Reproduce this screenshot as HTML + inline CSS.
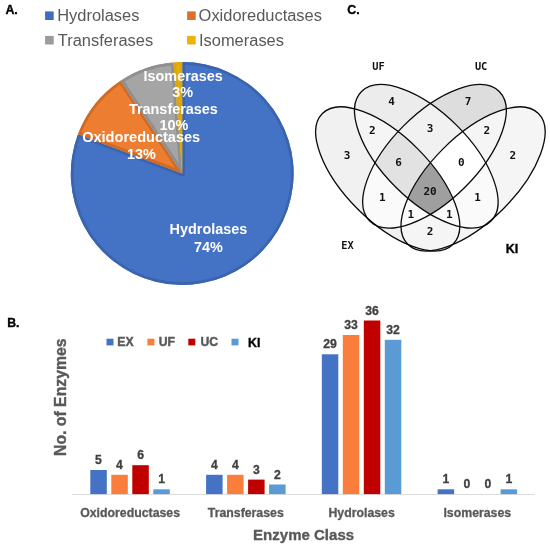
<!DOCTYPE html>
<html><head><meta charset="utf-8"><title>Enzyme classes</title>
<style>
html,body{margin:0;padding:0;background:#fff}
svg{display:block}
text{font-family:"Liberation Sans",sans-serif}
.mono{font-family:"DejaVu Sans Mono","Liberation Mono",monospace}
</style></head><body>
<svg width="550" height="550" viewBox="0 0 550 550">
<rect width="550" height="550" fill="#fff"/>
<g id="pie">
<defs><clipPath id="w0"><path d="M182.2,173.5 L182.20,62.10 A111.4,111.4 0 1 1 77.98,134.15 Z"/></clipPath><clipPath id="w1"><path d="M182.2,173.5 L77.98,134.15 A111.4,111.4 0 0 1 120.65,80.65 Z"/></clipPath><clipPath id="w2"><path d="M182.2,173.5 L120.65,80.65 A111.4,111.4 0 0 1 173.51,62.44 Z"/></clipPath><clipPath id="w3"><path d="M182.2,173.5 L173.51,62.44 A111.4,111.4 0 0 1 182.20,62.10 Z"/></clipPath></defs>
<path d="M182.2,173.5 L182.20,62.10 A111.4,111.4 0 1 1 77.98,134.15 Z" fill="#4472C4"/>
<path d="M182.2,173.5 L182.20,62.10 A111.4,111.4 0 1 1 77.98,134.15 Z" fill="none" stroke="#3B64AF" stroke-width="5.4" stroke-linejoin="round" clip-path="url(#w0)"/>
<path d="M182.2,173.5 L77.98,134.15 A111.4,111.4 0 0 1 120.65,80.65 Z" fill="#ED7D31"/>
<path d="M182.2,173.5 L77.98,134.15 A111.4,111.4 0 0 1 120.65,80.65 Z" fill="none" stroke="#CF6B26" stroke-width="5.4" stroke-linejoin="round" clip-path="url(#w1)"/>
<path d="M182.2,173.5 L120.65,80.65 A111.4,111.4 0 0 1 173.51,62.44 Z" fill="#A5A5A5"/>
<path d="M182.2,173.5 L120.65,80.65 A111.4,111.4 0 0 1 173.51,62.44 Z" fill="none" stroke="#8F8F8F" stroke-width="5.4" stroke-linejoin="round" clip-path="url(#w2)"/>
<path d="M182.2,173.5 L173.51,62.44 A111.4,111.4 0 0 1 182.20,62.10 Z" fill="#E8B00F"/>
<path d="M182.2,173.5 L173.51,62.44 A111.4,111.4 0 0 1 182.20,62.10 Z" fill="none" stroke="#DCA60D" stroke-width="5.4" stroke-linejoin="round" clip-path="url(#w3)"/>
</g>
<text x="183.2" y="80.9" font-size="14.4" font-weight="bold" fill="#fff" text-anchor="middle">Isomerases</text>
<text x="182.7" y="97.4" font-size="14.4" font-weight="bold" fill="#fff" text-anchor="middle">3%</text>
<text x="173.4" y="113.6" font-size="14.4" font-weight="bold" fill="#fff" text-anchor="middle">Transferases</text>
<text x="174.0" y="130.3" font-size="14.4" font-weight="bold" fill="#fff" text-anchor="middle">10%</text>
<text x="141.2" y="142.4" font-size="14.55" font-weight="bold" fill="#fff" text-anchor="middle">Oxidoreductases</text>
<text x="141.4" y="158.8" font-size="14.4" font-weight="bold" fill="#fff" text-anchor="middle">13%</text>
<text x="208.4" y="234.0" font-size="14.4" font-weight="bold" fill="#fff" text-anchor="middle">Hydrolases</text>
<text x="208.3" y="251.9" font-size="14.4" font-weight="bold" fill="#fff" text-anchor="middle">74%</text>
<rect x="45.1" y="11.4" width="8.6" height="8.6" fill="#406CBD"/>
<text x="57.2" y="20.9" font-size="16.45" font-weight="normal" fill="#595959" text-anchor="start">Hydrolases</text>
<rect x="187.1" y="11.4" width="8.6" height="8.6" fill="#DD6E2B"/>
<text x="198.6" y="20.9" font-size="16.45" font-weight="normal" fill="#595959" text-anchor="start">Oxidoreductases</text>
<rect x="45.1" y="35.9" width="8.6" height="8.6" fill="#9B9B9B"/>
<text x="57.8" y="45.8" font-size="16.45" font-weight="normal" fill="#595959" text-anchor="start">Transferases</text>
<rect x="187.1" y="35.9" width="8.6" height="8.6" fill="#EDB20C"/>
<text x="199.0" y="45.8" font-size="16.45" font-weight="normal" fill="#595959" text-anchor="start">Isomerases</text>
<text x="5.4" y="14" font-size="12.4" font-weight="bold" fill="#000" text-anchor="start" stroke="#000" stroke-width="0.35">A.</text>
<text x="7.2" y="327.3" font-size="12.3" font-weight="bold" fill="#000" text-anchor="start" stroke="#000" stroke-width="0.35">B.</text>
<text x="347.3" y="14" font-size="12.4" font-weight="bold" fill="#000" text-anchor="start" stroke="#000" stroke-width="0.35">C.</text>
<defs>
<clipPath id="cEX"><ellipse cx="387.7" cy="178.9" rx="92.4" ry="42.5" transform="rotate(45 387.7 178.9)"/></clipPath>
<clipPath id="cUF"><ellipse cx="426.3" cy="156.3" rx="91.6" ry="43.4" transform="rotate(45 426.3 156.3)"/></clipPath>
<clipPath id="cUC"><ellipse cx="434.5" cy="156.3" rx="91.6" ry="43.4" transform="rotate(-45 434.5 156.3)"/></clipPath>
<clipPath id="cKI"><ellipse cx="473.1" cy="178.9" rx="92.4" ry="42.5" transform="rotate(-45 473.1 178.9)"/></clipPath>
</defs>
<g id="venn">
<g clip-path="url(#cEX)"><rect x="300" y="60" width="250" height="210" fill="#F1F1F1"/></g>
<g clip-path="url(#cUF)"><rect x="300" y="60" width="250" height="210" fill="#ECECEC"/></g>
<g clip-path="url(#cUC)"><rect x="300" y="60" width="250" height="210" fill="#DDDDDD"/></g>
<g clip-path="url(#cKI)"><rect x="300" y="60" width="250" height="210" fill="#F5F5F5"/></g>
<g clip-path="url(#cEX)"><g clip-path="url(#cUF)"><rect x="300" y="60" width="250" height="210" fill="#F5F5F5"/></g></g>
<g clip-path="url(#cEX)"><g clip-path="url(#cUC)"><rect x="300" y="60" width="250" height="210" fill="#FAFAFA"/></g></g>
<g clip-path="url(#cEX)"><g clip-path="url(#cKI)"><rect x="300" y="60" width="250" height="210" fill="#F5F5F5"/></g></g>
<g clip-path="url(#cUF)"><g clip-path="url(#cUC)"><rect x="300" y="60" width="250" height="210" fill="#F1F1F1"/></g></g>
<g clip-path="url(#cUF)"><g clip-path="url(#cKI)"><rect x="300" y="60" width="250" height="210" fill="#FAFAFA"/></g></g>
<g clip-path="url(#cUC)"><g clip-path="url(#cKI)"><rect x="300" y="60" width="250" height="210" fill="#F5F5F5"/></g></g>
<g clip-path="url(#cEX)"><g clip-path="url(#cUF)"><g clip-path="url(#cUC)"><rect x="300" y="60" width="250" height="210" fill="#E2E2E2"/></g></g></g>
<g clip-path="url(#cEX)"><g clip-path="url(#cUF)"><g clip-path="url(#cKI)"><rect x="300" y="60" width="250" height="210" fill="#FAFAFA"/></g></g></g>
<g clip-path="url(#cEX)"><g clip-path="url(#cUC)"><g clip-path="url(#cKI)"><rect x="300" y="60" width="250" height="210" fill="#FAFAFA"/></g></g></g>
<g clip-path="url(#cUF)"><g clip-path="url(#cUC)"><g clip-path="url(#cKI)"><rect x="300" y="60" width="250" height="210" fill="#FFFFFF"/></g></g></g>
<g clip-path="url(#cEX)"><g clip-path="url(#cUF)"><g clip-path="url(#cUC)"><g clip-path="url(#cKI)"><rect x="300" y="60" width="250" height="210" fill="#9F9F9F"/></g></g></g></g>
<ellipse cx="387.7" cy="178.9" rx="92.4" ry="42.5" transform="rotate(45 387.7 178.9)" fill="none" stroke="#0a0a0a" stroke-width="1.3"/>
<ellipse cx="426.3" cy="156.3" rx="91.6" ry="43.4" transform="rotate(45 426.3 156.3)" fill="none" stroke="#0a0a0a" stroke-width="1.3"/>
<ellipse cx="434.5" cy="156.3" rx="91.6" ry="43.4" transform="rotate(-45 434.5 156.3)" fill="none" stroke="#0a0a0a" stroke-width="1.3"/>
<ellipse cx="473.1" cy="178.9" rx="92.4" ry="42.5" transform="rotate(-45 473.1 178.9)" fill="none" stroke="#0a0a0a" stroke-width="1.3"/>
<text class="mono" x="347.1" y="158.7" font-size="11" font-weight="bold" fill="#111" text-anchor="middle">3</text>
<text class="mono" x="391.6" y="105.1" font-size="11" font-weight="bold" fill="#111" text-anchor="middle">4</text>
<text class="mono" x="468.0" y="105.1" font-size="11" font-weight="bold" fill="#111" text-anchor="middle">7</text>
<text class="mono" x="512.9" y="158.7" font-size="11" font-weight="bold" fill="#111" text-anchor="middle">2</text>
<text class="mono" x="372.4" y="134.3" font-size="11" font-weight="bold" fill="#111" text-anchor="middle">2</text>
<text class="mono" x="430.0" y="131.7" font-size="11" font-weight="bold" fill="#111" text-anchor="middle">3</text>
<text class="mono" x="486.7" y="134.3" font-size="11" font-weight="bold" fill="#111" text-anchor="middle">2</text>
<text class="mono" x="398.6" y="166.1" font-size="11" font-weight="bold" fill="#111" text-anchor="middle">6</text>
<text class="mono" x="461.4" y="166.1" font-size="11" font-weight="bold" fill="#111" text-anchor="middle">0</text>
<text class="mono" x="430.0" y="194.5" font-size="11" font-weight="bold" fill="#111" text-anchor="middle">20</text>
<text class="mono" x="382.4" y="201.1" font-size="11" font-weight="bold" fill="#111" text-anchor="middle">1</text>
<text class="mono" x="477.6" y="201.1" font-size="11" font-weight="bold" fill="#111" text-anchor="middle">1</text>
<text class="mono" x="410.8" y="218.1" font-size="11" font-weight="bold" fill="#111" text-anchor="middle">1</text>
<text class="mono" x="449.2" y="218.1" font-size="11" font-weight="bold" fill="#111" text-anchor="middle">1</text>
<text class="mono" x="430.0" y="235.1" font-size="11" font-weight="bold" fill="#111" text-anchor="middle">2</text>
<text class="mono" x="378.5" y="70.4" font-size="10.3" font-weight="bold" fill="#111" text-anchor="middle">UF</text>
<text class="mono" x="481.1" y="70.4" font-size="10.3" font-weight="bold" fill="#111" text-anchor="middle">UC</text>
<text class="mono" x="347.5" y="248.9" font-size="10.3" font-weight="bold" fill="#111" text-anchor="middle">EX</text>
<text x="512.0" y="252.8" font-size="12.6" font-weight="bold" fill="#000" text-anchor="middle" stroke="#000" stroke-width="0.35">KI</text>
</g>
<g id="bars">
<rect x="72.3" y="494.1" width="462.4" height="0.9" fill="#D9D9D9"/>
<rect x="90.3" y="470.0" width="16.5" height="24.1" fill="#4472C4"/>
<text x="98.5" y="464.0" font-size="12.2" font-weight="bold" fill="#404040" text-anchor="middle" stroke="#404040" stroke-width="0.3">5</text>
<rect x="111.3" y="474.8" width="16.5" height="19.3" fill="#F97D3B"/>
<text x="119.5" y="468.8" font-size="12.2" font-weight="bold" fill="#404040" text-anchor="middle" stroke="#404040" stroke-width="0.3">4</text>
<rect x="132.3" y="465.2" width="16.5" height="28.9" fill="#C00000"/>
<text x="140.6" y="459.2" font-size="12.2" font-weight="bold" fill="#404040" text-anchor="middle" stroke="#404040" stroke-width="0.3">6</text>
<rect x="153.3" y="489.3" width="16.5" height="4.8" fill="#5B9BD5"/>
<text x="161.6" y="483.3" font-size="12.2" font-weight="bold" fill="#404040" text-anchor="middle" stroke="#404040" stroke-width="0.3">1</text>
<text x="130.1" y="517.4" font-size="12.3" font-weight="bold" fill="#595959" text-anchor="middle" stroke="#595959" stroke-width="0.3">Oxidoreductases</text>
<rect x="206.1" y="474.8" width="16.5" height="19.3" fill="#4472C4"/>
<text x="214.3" y="468.8" font-size="12.2" font-weight="bold" fill="#404040" text-anchor="middle" stroke="#404040" stroke-width="0.3">4</text>
<rect x="227.1" y="474.8" width="16.5" height="19.3" fill="#F97D3B"/>
<text x="235.3" y="468.8" font-size="12.2" font-weight="bold" fill="#404040" text-anchor="middle" stroke="#404040" stroke-width="0.3">4</text>
<rect x="248.1" y="479.6" width="16.5" height="14.5" fill="#C00000"/>
<text x="256.3" y="473.6" font-size="12.2" font-weight="bold" fill="#404040" text-anchor="middle" stroke="#404040" stroke-width="0.3">3</text>
<rect x="269.1" y="484.5" width="16.5" height="9.6" fill="#5B9BD5"/>
<text x="277.3" y="478.5" font-size="12.2" font-weight="bold" fill="#404040" text-anchor="middle" stroke="#404040" stroke-width="0.3">2</text>
<text x="245.8" y="517.4" font-size="12.3" font-weight="bold" fill="#595959" text-anchor="middle" stroke="#595959" stroke-width="0.3">Transferases</text>
<rect x="321.8" y="354.3" width="16.5" height="139.8" fill="#4472C4"/>
<text x="330.1" y="348.3" font-size="12.2" font-weight="bold" fill="#404040" text-anchor="middle" stroke="#404040" stroke-width="0.3">29</text>
<rect x="342.8" y="335.0" width="16.5" height="159.1" fill="#F97D3B"/>
<text x="351.1" y="329.0" font-size="12.2" font-weight="bold" fill="#404040" text-anchor="middle" stroke="#404040" stroke-width="0.3">33</text>
<rect x="363.8" y="320.5" width="16.5" height="173.6" fill="#C00000"/>
<text x="372.1" y="314.5" font-size="12.2" font-weight="bold" fill="#404040" text-anchor="middle" stroke="#404040" stroke-width="0.3">36</text>
<rect x="384.8" y="339.8" width="16.5" height="154.3" fill="#5B9BD5"/>
<text x="393.1" y="333.8" font-size="12.2" font-weight="bold" fill="#404040" text-anchor="middle" stroke="#404040" stroke-width="0.3">32</text>
<text x="361.6" y="517.4" font-size="12.3" font-weight="bold" fill="#595959" text-anchor="middle" stroke="#595959" stroke-width="0.3">Hydrolases</text>
<rect x="437.6" y="489.3" width="16.5" height="4.8" fill="#4472C4"/>
<text x="445.8" y="483.3" font-size="12.2" font-weight="bold" fill="#404040" text-anchor="middle" stroke="#404040" stroke-width="0.3">1</text>
<text x="466.8" y="488.1" font-size="12.2" font-weight="bold" fill="#404040" text-anchor="middle" stroke="#404040" stroke-width="0.3">0</text>
<text x="487.8" y="488.1" font-size="12.2" font-weight="bold" fill="#404040" text-anchor="middle" stroke="#404040" stroke-width="0.3">0</text>
<rect x="500.6" y="489.3" width="16.5" height="4.8" fill="#5B9BD5"/>
<text x="508.8" y="483.3" font-size="12.2" font-weight="bold" fill="#404040" text-anchor="middle" stroke="#404040" stroke-width="0.3">1</text>
<text x="477.3" y="517.4" font-size="12.3" font-weight="bold" fill="#595959" text-anchor="middle" stroke="#595959" stroke-width="0.3">Isomerases</text>
<text x="303.6" y="540.4" font-size="15.2" font-weight="bold" fill="#595959" text-anchor="middle" stroke="#595959" stroke-width="0.35" textLength="101" lengthAdjust="spacingAndGlyphs">Enzyme Class</text>
<text transform="translate(66 456) rotate(-90)" font-size="15.8" font-weight="bold" fill="#595959" stroke="#595959" stroke-width="0.4" textLength="117.6" lengthAdjust="spacingAndGlyphs">No. of Enzymes</text>
<rect x="106.5" y="338.7" width="7" height="6.7" fill="#4472C4"/>
<rect x="147.4" y="338.7" width="7" height="6.7" fill="#F97D3B"/>
<rect x="188.3" y="338.7" width="7" height="6.7" fill="#C00000"/>
<rect x="231.5" y="338.7" width="7" height="6.7" fill="#5B9BD5"/>
<text x="117.3" y="346.4" font-size="12.2" font-weight="bold" fill="#595959" text-anchor="start" stroke="#595959" stroke-width="0.45">EX</text>
<text x="158.8" y="346.4" font-size="12.2" font-weight="bold" fill="#595959" text-anchor="start" stroke="#595959" stroke-width="0.45">UF</text>
<text x="200.4" y="346.4" font-size="12.2" font-weight="bold" fill="#595959" text-anchor="start" stroke="#595959" stroke-width="0.45">UC</text>
<text x="248.0" y="346.6" font-size="12.4" font-weight="bold" fill="#000" text-anchor="start" stroke="#000" stroke-width="0.35">KI</text>
</g>
</svg></body></html>
